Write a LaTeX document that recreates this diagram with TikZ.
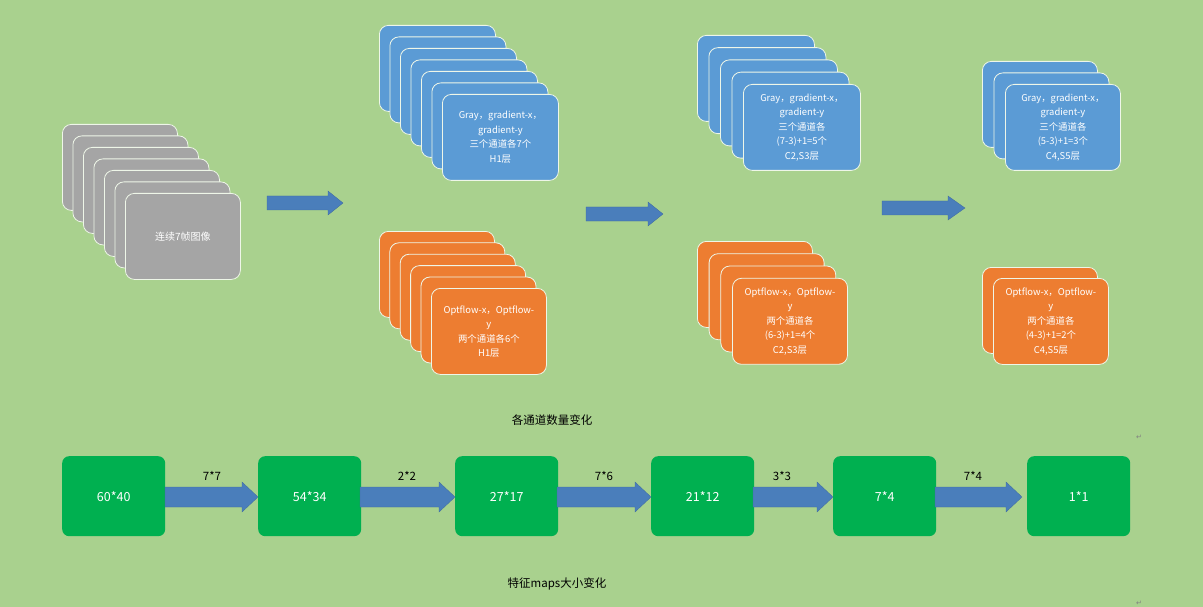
\documentclass[tikz,border=0pt]{standalone}
\usepackage{fontspec}
\setmainfont{Noto Sans CJK SC}
\newfontfamily\dvs{DejaVu Sans}
\definecolor{bgc}{HTML}{A9D18E}
\definecolor{bluec}{HTML}{5B9BD5}
\definecolor{orc}{HTML}{ED7D31}
\definecolor{grc}{HTML}{A5A5A5}
\definecolor{gnc}{HTML}{00B050}
\definecolor{arc}{HTML}{4A7EBB}
\tikzset{
 card/.style={draw=white!80!bgc,line width=0.8pt,rounded corners=9pt,anchor=north west,inner sep=2pt,
   text=white,align=center,font=\fontsize{9.4}{14.5}\selectfont,minimum height=86pt},
 gbox/.style={fill=gnc,rounded corners=7pt,minimum width=103pt,minimum height=80pt,anchor=north west,
   text=white,font=\fontsize{12.5}{14}\selectfont},
 lab/.style={font=\fontsize{11.5}{13}\selectfont,text=black},
 bigarrow/.style={fill=arc,draw=arc!85!black,line width=0.3pt}
}
% \stk{name}{n}{x0}{y0}{dx}{dy}{w}{color}{text}
\newcommand{\stk}[9]{%
 \pgfmathtruncatemacro{\nm}{#2-2}
 \foreach \i in {0,...,\nm}{
   \node[card,fill=#8,minimum width=#7pt] at ({#3+\i*#5},{#4+\i*#6}) {};
 }
 \node[card,fill=#8,minimum width=#7pt,text width={#7pt-8pt}] (#1) at ({#3+(#2-1)*#5},{#4+(#2-1)*#6}) {#9};
}
\newcommand{\hArrow}[5]{% x1 y1 x2 halfthick headlen
 \fill[bigarrow] (#1,{#2-#4}) -- ({#3-#5},{#2-#4}) -- ({#3-#5},{#2-#4-5}) -- (#3,#2) -- ({#3-#5},{#2+#4+5}) -- ({#3-#5},{#2+#4}) -- (#1,{#2+#4}) -- cycle;
}
\begin{document}
\begin{tikzpicture}[x=1pt,y=-1pt]
\fill[bgc] (0,0) rectangle (1203,607);
\useasboundingbox (0,0) rectangle (1203,607);
\stk{g}{7}{62}{124}{10.5}{11.5}{115}{grc}{\fontsize{10}{12}\selectfont 连续7帧图像}
\stk{b1}{7}{379}{25}{10.5}{11.5}{116}{bluec}{Gray，gradient-x，\\gradient-y\\三个通道各7个\\H1层}
\stk{o1}{6}{379}{231}{10.4}{11.4}{115}{orc}{Optflow-x，Optflow-\\y\\两个通道各6个\\H1层}
\stk{b2}{5}{697}{35}{11.5}{12.25}{117}{bluec}{Gray，gradient-x，\\gradient-y\\三个通道各\\(7-3)+1=5个\\C2,S3层}
\stk{o2}{4}{697}{241}{11.7}{12.3}{115}{orc}{Optflow-x，Optflow-\\y\\两个通道各\\(6-3)+1=4个\\C2,S3层}
\stk{b3}{3}{982}{61}{11.5}{11.5}{115}{bluec}{Gray，gradient-x，\\gradient-y\\三个通道各\\(5-3)+1=3个\\C4,S5层}
\stk{o3}{2}{982}{267}{11}{11}{115}{orc}{Optflow-x，Optflow-\\y\\两个通道各\\(4-3)+1=2个\\C4,S5层}
\hArrow{267}{203}{343}{7}{15}
\hArrow{586}{214}{663}{7}{15}
\hArrow{882}{208}{965}{7}{17}
\node[lab] (t1) at (552,420) {各通道数量变化};
\node[lab] (t2) at (557,584) {特征maps大小变化};
\node[gbox] (m1) at (62,456) {60*40};
\node[gbox] (m2) at (258,456) {54*34};
\node[gbox] (m3) at (455,456) {27*17};
\node[gbox] (m4) at (651,456) {21*12};
\node[gbox] (m5) at (833,456) {7*4};
\node[gbox] (m6) at (1027,456) {1*1};
\hArrow{165}{497}{258}{10}{16}
\hArrow{360}{497}{455}{10}{16}
\hArrow{557}{497}{651}{10}{16}
\hArrow{753}{497}{833}{10}{16}
\hArrow{935}{497}{1022}{10}{16}
\node[lab] at (212,476) {7*7};
\node[lab] at (407,476) {2*2};
\node[lab] at (604,476) {7*6};
\node[lab] at (782,476) {3*3};
\node[lab] at (973,476) {7*4};
\node[font=\dvs\fontsize{7}{8}\selectfont,text=gray] at (1139,437) {↵};
\node[font=\dvs\fontsize{7}{8}\selectfont,text=gray] at (1139,603) {↵};
\end{tikzpicture}
\end{document}
